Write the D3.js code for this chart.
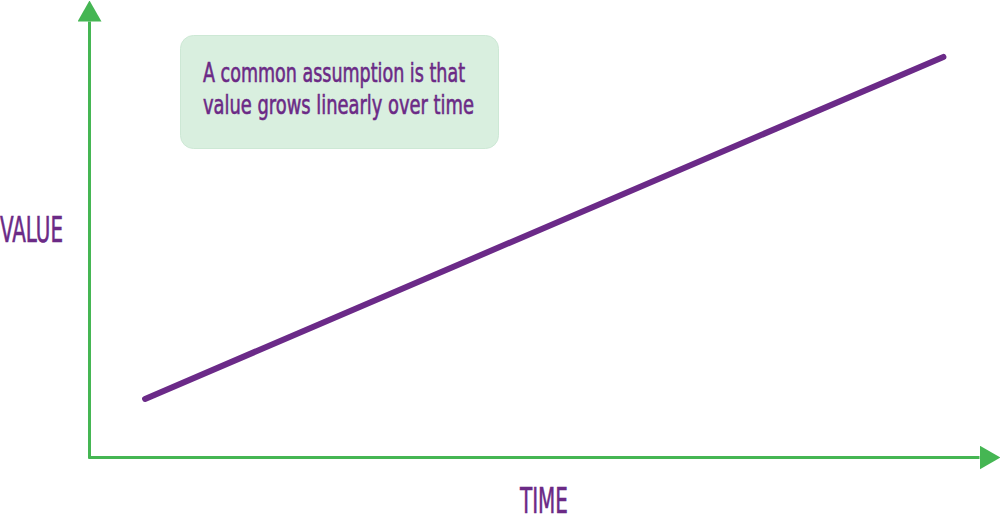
<!DOCTYPE html>
<html>
<head>
<meta charset="utf-8">
<script src="https://d3js.org/d3.v7.min.js"></script>
<style>
	body { margin: 0; background: #fff; }
	text { font-family: "DejaVu Sans Condensed", "Liberation Sans Narrow", "Roboto", sans-serif; font-stretch: condensed; fill: #6b2a86; stroke: #6b2a86; stroke-width: 0.6px; }
	.axis path { stroke: #45b653; stroke-width: 3px; }
</style>
</head>
<body>
<svg width="1000" height="524"></svg>
<script>
// values (axes run 0..100)
var times = [6.3, 96];
var values = [13, 89.5];
var noteLines = ["A common assumption is that", "value grows linearly over time"];
var xLabel = "TIME", yLabel = "VALUE";

var svg = d3.select("svg");
var x = d3.scaleLinear().domain([0, 100]).range([89, 979]);
var y = d3.scaleLinear().domain([0, 100]).range([457, 10]);

var defs = svg.append("defs");
defs.append("marker")
	.attr("id", "arrow")
	.attr("viewBox", "0 0 21 24")
	.attr("refX", 0).attr("refY", 12)
	.attr("markerWidth", 21).attr("markerHeight", 24)
	.attr("markerUnits", "userSpaceOnUse")
	.attr("orient", "auto")
	.append("path").attr("d", "M0,0L21,12L0,24Z").attr("fill", "#45b653");

// axes without ticks, only the domain line with an arrow at the end
var yAxis = svg.append("g").attr("class", "axis")
	.attr("transform", "translate(89,0)")
	.call(d3.axisLeft(d3.scaleLinear().range([458, 21])).ticks(0).tickSizeOuter(0));
var xAxis = svg.append("g").attr("class", "axis")
	.attr("transform", "translate(0,457)")
	.call(d3.axisBottom(d3.scaleLinear().range([88, 979])).ticks(0).tickSizeOuter(0));
svg.selectAll(".axis path").attr("marker-end", "url(#arrow)");

// the line
var pts = times.map(function(t, i) { return [t, values[i]]; });
svg.append("path")
	.datum(pts)
	.attr("fill", "none")
	.attr("stroke", "#6b2a88")
	.attr("stroke-width", 6)
	.attr("stroke-linecap", "round")
	.attr("d", d3.line().x(function(d) { return x(d[0]); }).y(function(d) { return y(d[1]); }));

// note box
svg.append("rect")
	.attr("x", 180.5).attr("y", 35.5)
	.attr("width", 318).attr("height", 113)
	.attr("rx", 13)
	.attr("fill", "#d9efdf")
	.attr("stroke", "#cde8d5");

var widths = [262, 271];
svg.selectAll(".note")
	.data(noteLines)
	.enter().append("text")
	.attr("class", "note")
	.attr("x", 203)
	.attr("y", function(d, i) { return 82 + i * 32; })
	.attr("font-size", 27)
	.attr("textLength", function(d, i) { return widths[i]; })
	.attr("lengthAdjust", "spacingAndGlyphs")
	.text(function(d) { return d; });

svg.append("text")
	.attr("x", 0).attr("y", 242)
	.attr("font-size", 36)
	.attr("textLength", 63)
	.attr("lengthAdjust", "spacingAndGlyphs")
	.text(yLabel);

svg.append("text")
	.attr("x", 520).attr("y", 513)
	.attr("font-size", 36)
	.attr("textLength", 48)
	.attr("lengthAdjust", "spacingAndGlyphs")
	.text(xLabel);
</script>
</body>
</html>
